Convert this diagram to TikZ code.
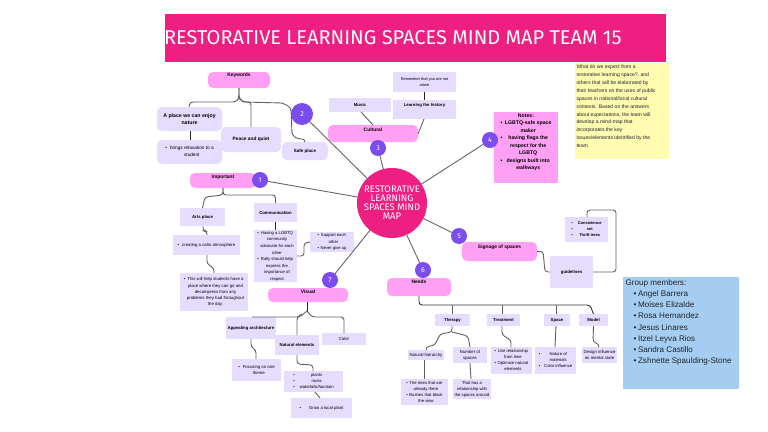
\documentclass[tikz,border=0pt]{standalone}
\usepackage{fontspec}
\usetikzlibrary{calc}
\setmainfont{Liberation Sans}
\newfontfamily\ttl{Fira Sans}
\definecolor{hdr}{HTML}{EE1F82}
\definecolor{pill}{HTML}{FFA0F5}
\definecolor{lav}{HTML}{E6DCFF}
\definecolor{purp}{HTML}{7C4DEE}
\definecolor{yel}{HTML}{FFFBB0}
\definecolor{grp}{HTML}{A4CDF1}
\definecolor{ink}{HTML}{20242C}
\newcommand\nd[7]{\node[#6,minimum width={(#4-#2)*1pt},minimum height={(#5-#3)*1pt}] (#1) at ({(#2+#4)/2},{(#3+#5)/2}) {#7};}
\newcommand\up[2]{\smash{\raisebox{#1}{#2}}}
\newcommand\fs[2]{\fontsize{#1}{#2}\selectfont}
\tikzset{
  base/.style={inner sep=0pt,outer sep=0pt,align=center,text=black},
  pillbox/.style={base,fill=pill,rounded corners=5pt,font=\bfseries\fs{4.9}{5.5}},
  lavbox/.style={base,fill=lav,font=\fs{4.3}{6.2}},
  lavbold/.style={lavbox,font=\bfseries\fs{4.3}{6.2}},
  softbox/.style={base,fill=lav,rounded corners=5pt,font=\bfseries\fs{5.2}{7.5}},
  num/.style={circle,fill=purp,text=white,inner sep=0pt,outer sep=0pt,font=\ttl\fs{7}{8}},
  conn/.style={draw=black!62,line width=0.9pt,rounded corners=3pt},
  dark/.style={draw=black!85,line width=0.9pt,rounded corners=3pt},
  spoke/.style={draw=black!60,line width=0.9pt}
}
\begin{document}
\begin{tikzpicture}[x=1pt,y=-1pt]
\useasboundingbox (0,0) rectangle (768,431);
\fill[white] (0,0) rectangle (768,431);
% header
\nd{head}{165}{14}{666}{62}{base,fill=hdr}{}
\node[base,anchor=west,text=white,font=\ttl\fs{20}{21}] (ttl) at (164,38) {RESTORATIVE LEARNING SPACES MIND MAP TEAM 15};
% notes
\nd{yellow}{575}{63}{669}{159}{base,fill=yel}{}
\node[base,anchor=north west,text=ink,align=left,font=\fs{5.1}{7.9}] (ytext) at (576.5,65) {What do we expect from a\\restorative learning space?, and\\others that will be elaborated by\\their teachers on the uses of public\\spaces in national/local cultural\\contexts. Based on the answers\\about expectations, the team will\\develop a mind-map that\\incorporates the key\\issues/elements identified by the\\team.};
\nd{group}{623}{277}{739}{389}{base,fill=grp}{}
\node[base,anchor=north west,text=ink,align=left,font=\fs{8.1}{11.2}] (gtext) at (625.5,279.5) {Group members:\\\hspace*{8pt}\textbullet\hspace{1.7pt}Angel Barrera\\\hspace*{8pt}\textbullet\hspace{1.7pt}Moises Elizalde\\\hspace*{8pt}\textbullet\hspace{1.7pt}Rosa Hernandez\\\hspace*{8pt}\textbullet\hspace{1.7pt}Jesus Linares\\\hspace*{8pt}\textbullet\hspace{1.7pt}Itzel Leyva Rios\\\hspace*{8pt}\textbullet\hspace{1.7pt}Sandra Castillo\\\hspace*{8pt}\textbullet\hspace{1.7pt}Zshnette Spaulding-Stone};
% hub
\node[circle,fill=hdr,inner sep=0pt,outer sep=0pt,minimum size=70pt,text=white,align=center,font=\ttl\fs{9.5}{9}] (hub) at (392,203) {RESTORATIVE\\LEARNING\\SPACES MIND\\MAP};
% branch 0: keywords
\nd{kw}{208}{72}{270}{88}{pillbox}{\up{3.5pt}{Keywords}}
\nd{aplace}{157}{107}{222}{131}{softbox}{A place we can enjoy\\nature}
\nd{brings}{157}{140}{222}{164}{lavbox,rounded corners=5pt,font=\fs{4.7}{7}}{\begin{tabular}{@{}c@{\hspace{3pt}}c@{}}\textbullet & brings relaxation to a\\ & student\end{tabular}}
\nd{peace}{221}{127}{281}{152}{softbox,font=\bfseries\fs{4.8}{7}}{Peace and quiet}
\nd{safe}{282}{142}{328}{160}{softbox,font=\bfseries\fs{4.5}{7}}{Safe place}
% branch 1
\nd{imp}{190}{173}{256}{188}{pillbox}{\up{2.5pt}{Important}}
\nd{arts}{180}{208}{225}{226}{lavbold}{Arts place}
\nd{calm}{173}{235}{240}{255}{lavbox}{\begin{tabular}{@{}c@{\hspace{3pt}}c@{}}\textbullet & creating a calm atmosphere\end{tabular}}
\nd{help}{180}{273}{248}{311}{lavbox}{\begin{tabular}{@{}c@{\hspace{1.5pt}}c@{}}\textbullet & This will help students have a\\ & place where they can go and\\ & decompress from any\\ & problems they had throughout\\ & the day.\end{tabular}}
\nd{comm}{254}{203}{297}{222}{lavbold}{Communication}
\nd{having}{254}{232}{297}{280}{lavbox,font=\fs{4.2}{6.6}}{\begin{tabular}{@{}c@{\hspace{1.5pt}}c@{}}\textbullet & Having a LGBTQ\\ & community\\ & advocate for each\\ & other\\ \textbullet & Rally should help\\ & express the\\ & importance of\\ & respect\end{tabular}}
\nd{support}{310}{232}{354}{252}{lavbox,font=\fs{4.2}{6.3}}{\begin{tabular}{@{}c@{\hspace{1.5pt}}c@{}}\textbullet & Support each\\ & other\\ \textbullet & Never give up\end{tabular}}
% branch 7
\nd{visual}{268}{288}{348}{302}{pillbox}{\up{2pt}{Visual}}
\nd{arch}{226}{317}{276}{339}{lavbold}{Appealing architecture}
\nd{natel}{275}{335}{319}{355}{lavbold}{Natural elements}
\nd{color}{322}{333}{366}{345}{lavbox}{Color}
\nd{focus}{232}{359}{281}{381}{lavbox}{\begin{tabular}{@{}c@{\hspace{3pt}}c@{}}\textbullet & Focusing on one\\ & theme\end{tabular}}
\nd{plants}{284}{371}{343}{392}{lavbox,font=\fs{4.2}{6}}{\begin{tabular}{@{}l@{\hspace{5pt}}c@{}}\textbullet & plants\\ \textbullet & rocks\\ \textbullet & waterfalls/fountain\end{tabular}}
\nd{grow}{291}{398}{352}{418}{lavbox}{\begin{tabular}{@{}c@{\hspace{8pt}}c@{}}\textbullet & Grow a local plant\end{tabular}}
% branch 3
\nd{remember}{393}{72}{456}{92}{lavbox,font=\fs{3.9}{6}}{Remember that you are not\\alone}
\nd{learn}{393}{100}{456}{119}{lavbold}{\up{3pt}{Learning the history}}
\nd{music}{329}{98}{391}{112}{lavbold}{Music}
\nd{cult}{328}{125}{418}{142}{pillbox}{\up{2.5pt}{Cultural}}
% branch 4
\nd{notes}{494}{112}{558}{183}{base,fill=pill,font=\bfseries\fs{5.2}{7.5}}{\up{4.5pt}{\begin{tabular}[c]{@{}c@{\hspace{2.5pt}}c@{}}\multicolumn{2}{c}{Notes:}\\ \textbullet & LGBTQ-safe space\\ & maker\\ \textbullet & having flags the\\ & respect for the\\ & LGBTQ\\ \textbullet & designs built into\\ & walkways\end{tabular}}}
% branch 5
\nd{sign}{462}{242}{537}{261}{pillbox}{\up{3pt}{Signage of spaces}}
\nd{guide}{550}{256}{593}{288}{lavbold}{guidelines}
\nd{cons}{565}{217}{608}{242}{lavbold,font=\bfseries\fs{4}{6}}{\begin{tabular}{@{}l@{\hspace{5pt}}c@{}}\textbullet & Consistence\\ \textbullet & set\\ \textbullet & Thrift trees\end{tabular}}
% branch 6
\nd{needs}{387}{278}{451}{296}{pillbox}{\up{3.5pt}{Needs}}
\nd{therapy}{435}{314}{470}{326}{lavbold}{Therapy}
\nd{treat}{487}{314}{520}{326}{lavbold}{Treatment}
\nd{space}{544}{314}{570}{326}{lavbold}{Space}
\nd{model}{579}{314}{608}{326}{lavbold}{Model}
\nd{hier}{408}{350}{444}{360}{lavbox}{Natural hierarchy}
\nd{numb}{453}{347}{487}{363}{lavbox}{Number of\\spaces}
\nd{use}{491}{347}{532}{374}{lavbox,font=\fs{4.2}{6}}{\begin{tabular}{@{}c@{\hspace{1.5pt}}c@{}}\textbullet & Use relationship\\ & from time\\ \textbullet & Optimize natural\\ & elements\end{tabular}}
\nd{nature}{535}{347}{576}{374}{lavbox,font=\fs{4.2}{6}}{\begin{tabular}{@{}c@{\hspace{4pt}}c@{}}\textbullet & Nature of\\ & materials\\ \textbullet & Color influence\end{tabular}}
\nd{design}{582}{347}{617}{363}{lavbox}{Design influence\\on mental state}
\nd{trees}{401}{379}{448}{405}{lavbox,font=\fs{4.2}{6}}{\begin{tabular}{@{}c@{\hspace{1.5pt}}c@{}}\textbullet & The trees that are\\ & already there\\ \textbullet & Bushes that block\\ & the view\end{tabular}}
\nd{that}{453}{379}{491}{399}{lavbox,font=\fs{4.2}{6}}{That has a\\relationship with\\the spaces around}
% numbered circles
\node[num,minimum size=16pt] (c1) at (260,180) {1};
\node[num,minimum size=22pt] (c2) at (302,114) {2};
\node[num,minimum size=16pt] (c3) at (378,148) {3};
\node[num,minimum size=16pt] (c4) at (490,140) {4};
\node[num,minimum size=16pt] (c5) at (459,236) {5};
\node[num,minimum size=16pt] (c6) at (423,270) {6};
\node[num,minimum size=16pt] (c7) at (330,280) {7};
% spokes
\foreach \c in {c1,c2,c3,c4,c5,c6,c7} \draw[spoke] (\c) -- (hub);
% keywords tree
\draw[conn] (kw.south) -- (239,98) -- (236,102) -- (190,102) -- (aplace.north -| 189,0);
\draw[conn] (kw.south) -- (239,98) -- (243,102) -- (251,102) -- (peace.north -| 251,0);
\draw[conn] (239,98) -- (243,102) -- (283,103) -- (291,108) -- (292,135) -- (298,139) -- (305,139) -- (safe.north);
\draw[dark] (aplace.south -| 190,0) -- (brings.north -| 190,0);
% important tree
\draw[conn] (imp.south) -- ($(imp.south)+(0,7)$) -- (205,197) -- (arts.north);
\draw[conn] (imp.south) -- ($(imp.south)+(0,7)$) -| (comm.north);
\draw[conn] (arts.south -| 203,0) -- (203,231) -- (207,231) -- (calm.north -| 207,0);
\draw[conn] (calm.south -| 207,0) -- (207,264) -- (214,268) -- (help.north -| 214,0);
\draw[dark] (comm.south) -- (having.north);
\draw[conn] (having.east |- 0,256) -- (304,256) -- (304,243) -- (support.west);
% visual tree
\draw[dark] (visual.south -| 307,0) -- (307,311);
\draw[conn] (307,311) -- (300,317) -- (arch.north -| 252,0);
\draw[conn] (302,314) -- (297,317) -- (natel.north -| 297,0);
\draw[conn] (307,311) -- (312,317) -- (344,317) -- (color.north -| 344,0);
\draw[conn] (arch.south -| 251,0) -- (251,347) -- (256,350) -- (focus.north -| 256,0);
\draw[conn] (natel.south) -- (297,364) -- (313,365) -- (plants.north -| 313,0);
\draw[conn] (plants.south -| 315,0) -- (grow.north -| 320,0);
% cultural
\draw[spoke] (music.south -| 361,0) -- (cult.north -| 373,0);
\draw[spoke] (learn.south -| 424,0) -- (418,134);
\draw[dark] (remember.south) -- (learn.north);
% signage
\draw[conn] (sign.east) -- (543,251) -- (545,272) -- (guide.west);
\draw[conn] (guide.east) -- (616,272) -- (616,210) -- (587,210) -- (cons.north -| 587,0);
% needs
\draw[dark,draw=black!80] (needs.south -| 419,0) |- (590,305) -- (model.north);
\draw[conn] (452,305) -- (therapy.north -| 452,0);
\draw[conn] (502,305) -- (treat.north -| 502,0);
\draw[conn] (556,305) -- (space.north -| 556,0);
\draw[conn] (therapy.south -| 452,0) -- (452,332) -- (440,334) -- (435,345) -- (426,347) -- (hier.north -| 426,0);
\draw[conn] (452,332) -- (468,336) -- (numb.north);
\draw[conn] (treat.south -| 502,0) -- (502,335) -- (511,340) -- (use.north -| 511,0);
\draw[conn] (space.south -| 556,0) -- (nature.north -| 555,0);
\draw[conn] (model.south) -- (593,342) -- (599,344) -- (design.north -| 599,0);
\draw[conn] (hier.south -| 424,0) -- (trees.north -| 424,0);
\draw[conn] (numb.south) -- (that.north -| 471,0);
\end{tikzpicture}
\end{document}
